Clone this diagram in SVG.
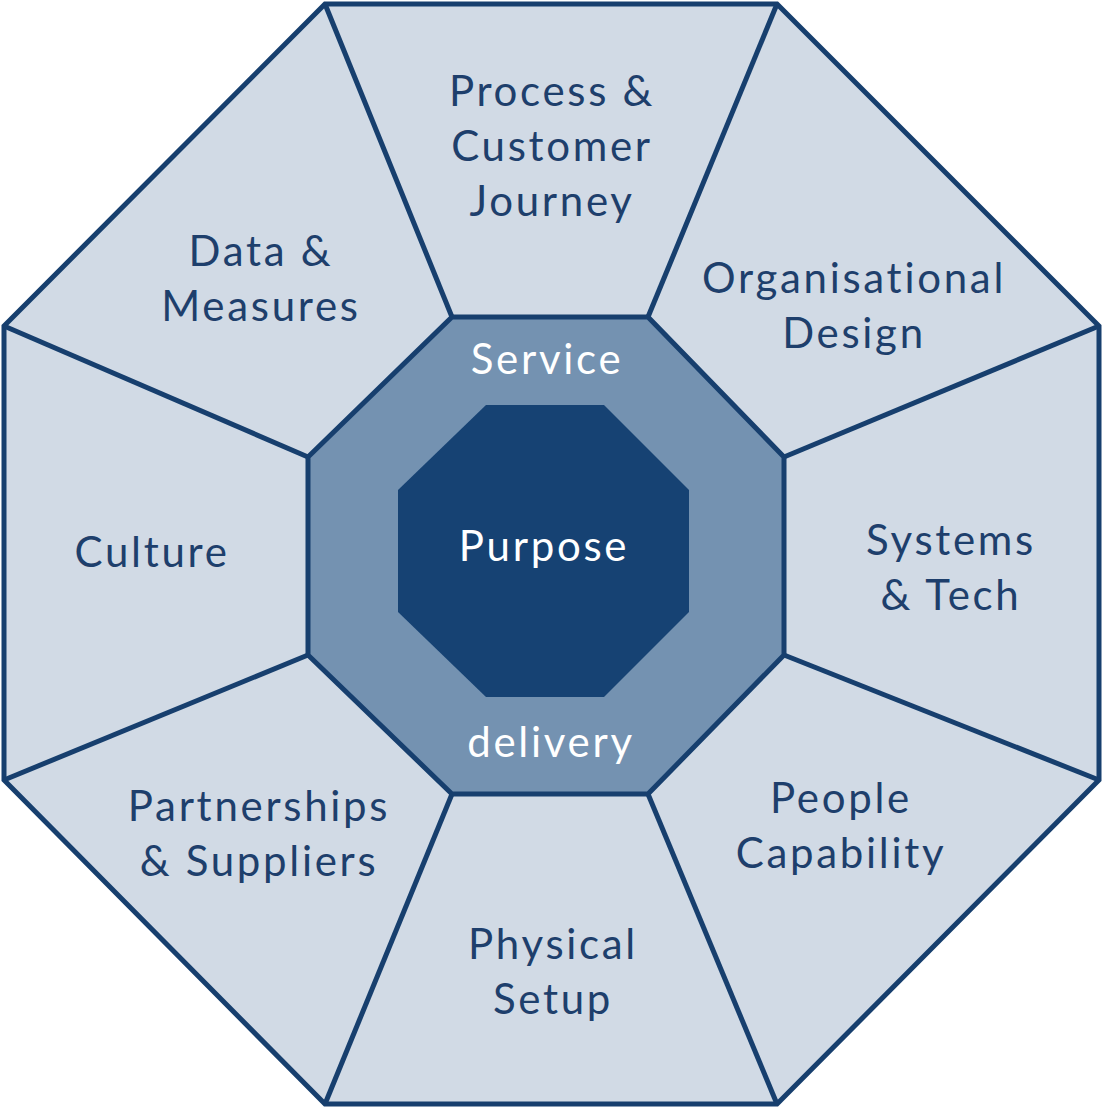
<svg xmlns="http://www.w3.org/2000/svg" width="1103" height="1108" viewBox="0 0 1103 1108">
<style>
.o{fill:#d1dae5;stroke:#173f6e;stroke-width:5;stroke-linejoin:miter}
.m{fill:#7492b1;stroke:#173f6e;stroke-width:5}
.i{fill:#164273}
.l{stroke:#173f6e;stroke-width:5}
text{font-family:Lato,"Open Sans",sans-serif;font-size:42px;letter-spacing:2.7px;text-anchor:middle;fill:#1e3f6c}
.w{fill:#fff}
</style>
<rect width="1103" height="1108" fill="#fff"/>
<g id="outer"><polygon class="o" points="325,4 777,4 1099,326 1099,780 777,1104 325,1104 4,780 4,326"/></g>
<g id="connectors">
<line class="l" x1="325" y1="4" x2="452" y2="317"/>
<line class="l" x1="777" y1="4" x2="648" y2="317"/>
<line class="l" x1="1099" y1="326" x2="784" y2="457"/>
<line class="l" x1="1099" y1="780" x2="784" y2="655"/>
<line class="l" x1="777" y1="1104" x2="648" y2="794"/>
<line class="l" x1="325" y1="1104" x2="452" y2="794"/>
<line class="l" x1="4" y1="780" x2="308" y2="655"/>
<line class="l" x1="4" y1="326" x2="308" y2="457"/>
</g>
<g id="service"><polygon class="m" points="452,317 648,317 784,457 784,655 648,794 452,794 308,655 308,457"/>
<text class="w" x="547" y="374">Service</text><text class="w" x="551" y="757">delivery</text></g>
<g id="purpose"><polygon class="i" points="486,405 604,405 689,490 689,612 604,697 486,697 398,612 398,490"/>
<text class="w" x="544" y="561">Purpose</text></g>
<g id="process"><text x="552" y="106">Process &amp;</text><text x="552" y="161">Customer</text><text x="552" y="216">Journey</text></g>
<g id="data"><text x="261" y="266">Data &amp;</text><text x="261" y="321">Measures</text></g>
<g id="org"><text x="854" y="293">Organisational</text><text x="854" y="348">Design</text></g>
<g id="culture"><text x="152" y="567">Culture</text></g>
<g id="systems"><text x="951" y="555">Systems</text><text x="951" y="610">&amp; Tech</text></g>
<g id="partners"><text x="259" y="821">Partnerships</text><text x="259" y="876">&amp; Suppliers</text></g>
<g id="people"><text x="841" y="813">People</text><text x="841" y="868">Capability</text></g>
<g id="physical"><text x="553" y="959">Physical</text><text x="553" y="1014">Setup</text></g>
</svg>
